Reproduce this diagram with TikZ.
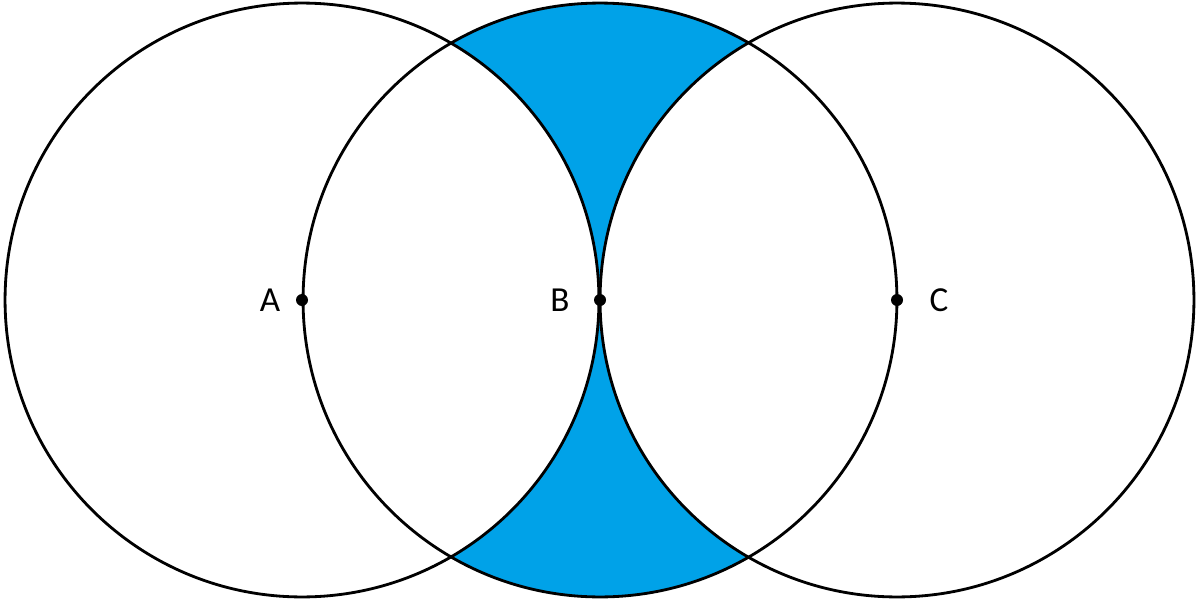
\documentclass[tikz,border=0pt]{standalone}
\usepackage{fontspec}
\setmainfont{Carlito}
\definecolor{fillblue}{RGB}{0,162,232}
\begin{document}
\begin{tikzpicture}[x=0.02cm,y=-0.02cm,
  circ/.style={draw=black,line width=1.6pt},
  lab/.style={font=\fontsize{20}{23}\selectfont}]
\useasboundingbox (0,0) rectangle (1200,602);
\coordinate (A) at (302,300);
\coordinate (B) at (600,300);
\coordinate (C) at (897,300);
\fill[fillblue] (B) circle[radius=5.94cm];
\fill[white] (A) circle[radius=5.94cm];
\fill[white] (C) circle[radius=5.94cm];
\draw[circ] (A) circle[radius=5.94cm];
\draw[circ] (B) circle[radius=5.94cm];
\draw[circ] (C) circle[radius=5.94cm];
\fill (A) circle[radius=0.12cm];
\fill (B) circle[radius=0.12cm];
\fill (C) circle[radius=0.12cm];
\node[lab] (la) at (270,300) {A};
\node[lab] (lb) at (560,300) {B};
\node[lab] (lc) at (939,300) {C};
\end{tikzpicture}
\end{document}
